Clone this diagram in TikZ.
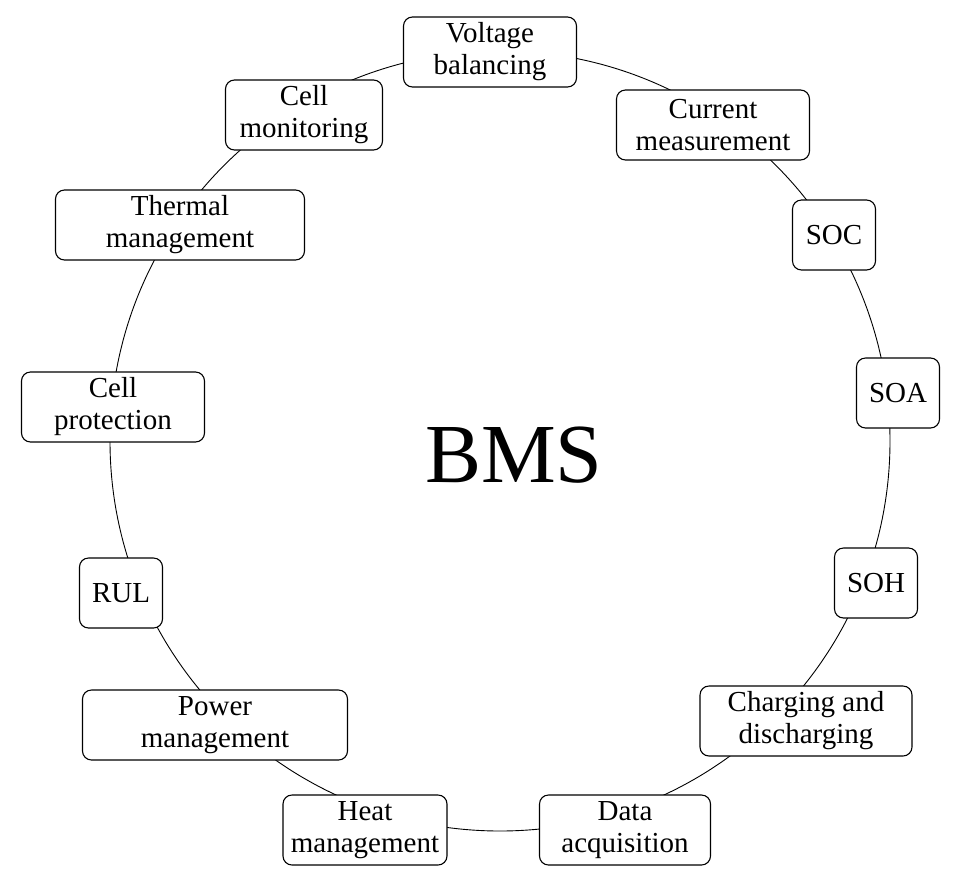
\documentclass[tikz,border=0pt]{standalone}
\usepackage{fontspec}
\setmainfont{Liberation Serif}
\begin{document}
\begin{tikzpicture}[x=1pt,y=-1pt,
  box/.style={draw,line width=1.1pt,fill=white,rounded corners=9pt,align=center,font=\fontsize{29}{32}\selectfont,inner sep=0pt}]
\useasboundingbox (0,0) rectangle (979,884);
\draw[line width=0.9pt] (500,441) circle (390);
\node[box,minimum width=173,minimum height=70] (vb) at (490,52) {Voltage\\balancing};
\node[box,minimum width=193,minimum height=70] (cm) at (713,125) {Current\\measurement};
\node[box,minimum width=83,minimum height=70] (soc) at (834,235) {SOC};
\node[box,minimum width=83,minimum height=70] (soa) at (898,393) {SOA};
\node[box,minimum width=83,minimum height=70] (soh) at (876,583) {SOH};
\node[box,minimum width=212,minimum height=70] (cd) at (806,721) {Charging and\\discharging};
\node[box,minimum width=171,minimum height=70] (da) at (625,830) {Data\\acquisition};
\node[box,minimum width=164,minimum height=70] (hm) at (365,830) {Heat\\management};
\node[box,minimum width=265,minimum height=70] (pm) at (215,725) {Power\\management};
\node[box,minimum width=83,minimum height=70] (rul) at (121,593) {RUL};
\node[box,minimum width=183,minimum height=70] (cp) at (113,407) {Cell\\protection};
\node[box,minimum width=249,minimum height=70] (tm) at (180,225) {Thermal\\management};
\node[box,minimum width=157,minimum height=70] (cmo) at (304,115) {Cell\\monitoring};
\node[font=\fontsize{84}{90}\selectfont] (bms) at (514,455) {BMS};
\end{tikzpicture}
\end{document}
